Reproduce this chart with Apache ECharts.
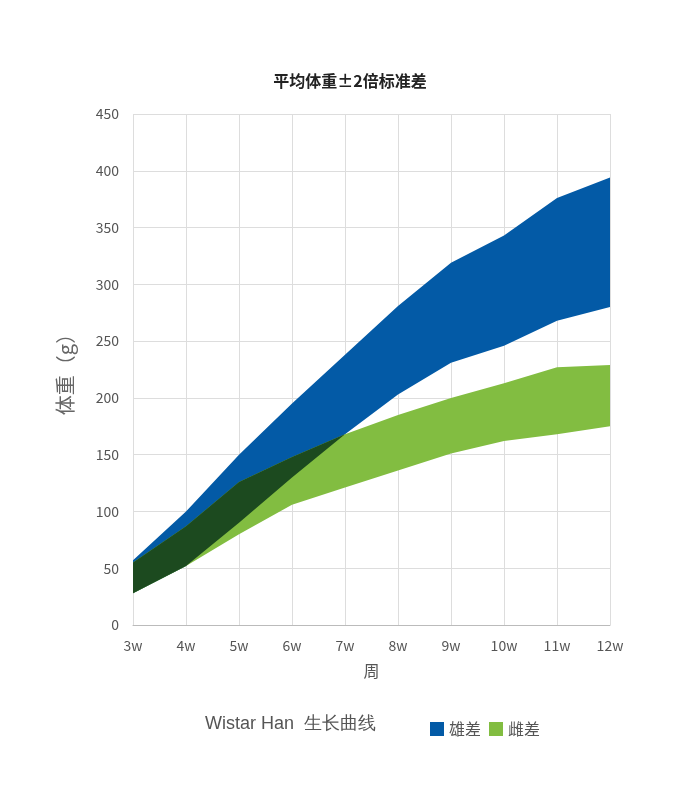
<!DOCTYPE html>
<html>
<head>
<meta charset="utf-8">
<script src="https://cdn.jsdelivr.net/npm/echarts@6/dist/echarts.min.js"></script>
<style>
  html, body { margin:0; padding:0; background:#fff; }
  #chart { width:700px; height:800px; }
</style>
</head>
<body>
<div id="chart"></div>
<script>
const weeks = ['3w','4w','5w','6w','7w','8w','9w','10w','11w','12w'];
const maleLow  = [28, 52, 90, 130, 168, 203, 231, 246, 268, 280];
const maleHigh = [57, 100, 150, 195, 238, 281, 319, 343, 376, 394];
const femaleLow  = [28, 52, 80, 106, 121, 136, 151, 162, 168, 175];
const femaleHigh = [55, 87, 126, 148, 168, 185, 200, 213, 227, 229];

const BLUE = '#035aa6', GREEN = '#82bd41', DARK = '#1c4a1f';

// overlap band from the two bands
const overLow = maleLow.map((v, i) => Math.max(v, femaleLow[i]));
const overHigh = maleHigh.map((v, i) => Math.min(v, femaleHigh[i]));
const overSpan = overHigh.map((v, i) => Math.max(0, v - overLow[i]));

function band(name, stack, low, span, color) {
  return [
    { name: stack + '_base', type:'line', stack, data: low, symbol:'none',
      lineStyle:{ opacity:0 }, areaStyle:{ opacity:0 }, silent:true, legendHoverLink:false },
    { name, type:'line', stack, data: span, symbol:'none',
      lineStyle:{ opacity:0 }, areaStyle:{ color, opacity:1 }, itemStyle:{ color } }
  ];
}

const chart = echarts.init(document.getElementById('chart'));
chart.setOption({
  animation:false,
  textStyle:{ fontFamily:'"Noto Sans CJK SC", "Open Sans", sans-serif' },
  title:{ text:'平均体重±2倍标准差', left:'center', top:68,
    textStyle:{ fontSize:16, fontWeight:'bold', color:'#222' } },
  grid:{ left:133, right:90, top:114, bottom:175 },
  xAxis:{ type:'category', data:weeks, boundaryGap:false,
    name:'周', nameLocation:'middle', nameGap:38,
    nameTextStyle:{ fontSize:16, color:'#555' },
    axisLine:{ lineStyle:{ color:'#bbb' } }, axisTick:{ show:false },
    axisLabel:{ color:'#555', fontSize:14, margin:14 },
    splitLine:{ show:true, lineStyle:{ color:'#ddd' } } },
  yAxis:{ type:'value', min:0, max:450, interval:50,
    name:'体重（g）', nameLocation:'middle', nameGap:58, nameRotate:90,
    nameTextStyle:{ fontSize:20, color:'#666' },
    axisLine:{ show:false }, axisTick:{ show:false },
    axisLabel:{ color:'#555', fontSize:14, margin:14 },
    splitLine:{ lineStyle:{ color:'#ddd' } } },
  legend:{ left:425, top:716, itemWidth:14, itemHeight:14, itemGap:8,
    data:[{ name:'雄差', icon:'rect' }, { name:'雌差', icon:'rect' }],
    textStyle:{ fontSize:16, color:'#555' } },
  graphic:[{ type:'text', left:205, top:715,
    style:{ text:'Wistar Han  生长曲线', fontSize:18, fill:'#555',
      font:'18px "Noto Sans CJK SC", "Open Sans", sans-serif' } }],
  series:[
    ...band('雄差', 'm', maleLow, maleHigh.map((v, i) => v - maleLow[i]), BLUE),
    ...band('雌差', 'f', femaleLow, femaleHigh.map((v, i) => v - femaleLow[i]), GREEN),
    ...band('重叠', 'o', overLow, overSpan, DARK)
  ]
});
</script>
</body>
</html>
